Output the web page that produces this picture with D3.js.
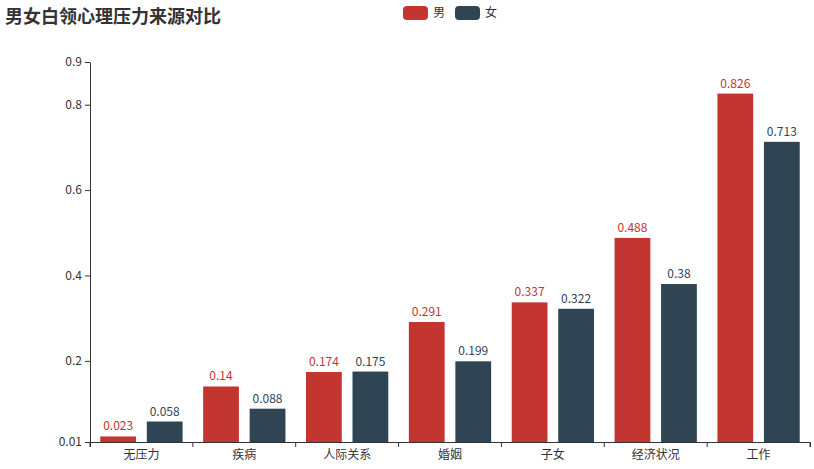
<!DOCTYPE html>
<html><head><meta charset="utf-8">
<script src="https://cdn.jsdelivr.net/npm/d3@7"></script>
<style>
body{margin:0;background:#fff;}
text{font-family:"Microsoft YaHei","Noto Sans CJK SC",sans-serif;}
</style></head>
<body>
<svg id="chart" width="814" height="469"></svg>
<script>
const title = "男女白领心理压力来源对比";
const categories = ["无压力","疾病","人际关系","婚姻","子女","经济状况","工作"];
const seriesNames = ["男","女"];
const maleValues = [0.023,0.14,0.174,0.291,0.337,0.488,0.826];
const femaleValues = [0.058,0.088,0.175,0.199,0.322,0.38,0.713];
const yTicks = [0.01,0.2,0.4,0.6,0.8,0.9];
const colors = ["#c23531","#2f4554"];

const svg = d3.select("#chart");
const margin = {left:90, right:4, top:62, bottom:27};
const W = 814, H = 469;
const x = d3.scaleBand().domain(categories).range([margin.left, W-margin.right]).paddingInner(0).paddingOuter(0);
const y = d3.scaleLinear().domain([0.01,0.9]).range([H-margin.bottom, margin.top]);
const series = [maleValues, femaleValues];

const bw = x.bandwidth();
const catGap = bw*0.2;
const barW = (bw-catGap)/2.3;
const gap = barW*0.3;

// bars
series.forEach((vals,si)=>{
  const g = svg.append("g");
  g.selectAll("rect").data(vals).enter().append("rect")
    .attr("x",(d,i)=>x(categories[i])+catGap/2+si*(barW+gap))
    .attr("y",d=>y(d))
    .attr("width",barW)
    .attr("height",d=>y(0.01)-y(d))
    .attr("fill",colors[si]);
  g.selectAll("text").data(vals).enter().append("text")
    .attr("x",(d,i)=>x(categories[i])+catGap/2+si*(barW+gap)+barW/2)
    .attr("y",d=>y(d)-6)
    .attr("text-anchor","middle")
    .attr("font-size",12)
    .attr("fill",colors[si])
    .text(d=>String(d));
});

// x axis
const xAxis = svg.append("g").attr("transform",`translate(0,${y(0.01)})`)
  .call(d3.axisBottom(x).tickSize(5).tickSizeOuter(5));
xAxis.select(".domain").attr("stroke","#333");
xAxis.selectAll(".tick line").remove();
const tickPos = d3.range(categories.length+1).map(i=>margin.left+i*bw);
xAxis.selectAll(".bt").data(tickPos).enter().append("line")
  .attr("x1",d=>d).attr("x2",d=>d).attr("y1",0).attr("y2",5).attr("stroke","#333");
xAxis.selectAll(".tick text").attr("font-size",12).attr("fill","#333").attr("dy","0.9em").attr("y",6);

// y axis
const yAxis = svg.append("g").attr("transform",`translate(${margin.left},0)`)
  .call(d3.axisLeft(y).tickValues(yTicks).tickSize(5).tickSizeOuter(0).tickFormat(d=>String(d)));
yAxis.select(".domain").attr("stroke","#333");
yAxis.selectAll(".tick line").attr("stroke","#333");
yAxis.selectAll(".tick text").attr("font-size",12).attr("fill","#333").attr("x",-8);

// title
svg.append("text").attr("x",5).attr("y",23).attr("font-size",18).attr("font-weight","bold")
  .attr("fill","#333").text(title);

// legend
const legX = [403,455];
seriesNames.forEach((n,i)=>{
  svg.append("rect").attr("x",legX[i]).attr("y",6).attr("width",25).attr("height",14)
    .attr("rx",4).attr("fill",colors[i]);
  svg.append("text").attr("x",legX[i]+30).attr("y",13).attr("dy","0.35em")
    .attr("font-size",12).attr("fill","#333").text(n);
});
</script>
</body></html>
